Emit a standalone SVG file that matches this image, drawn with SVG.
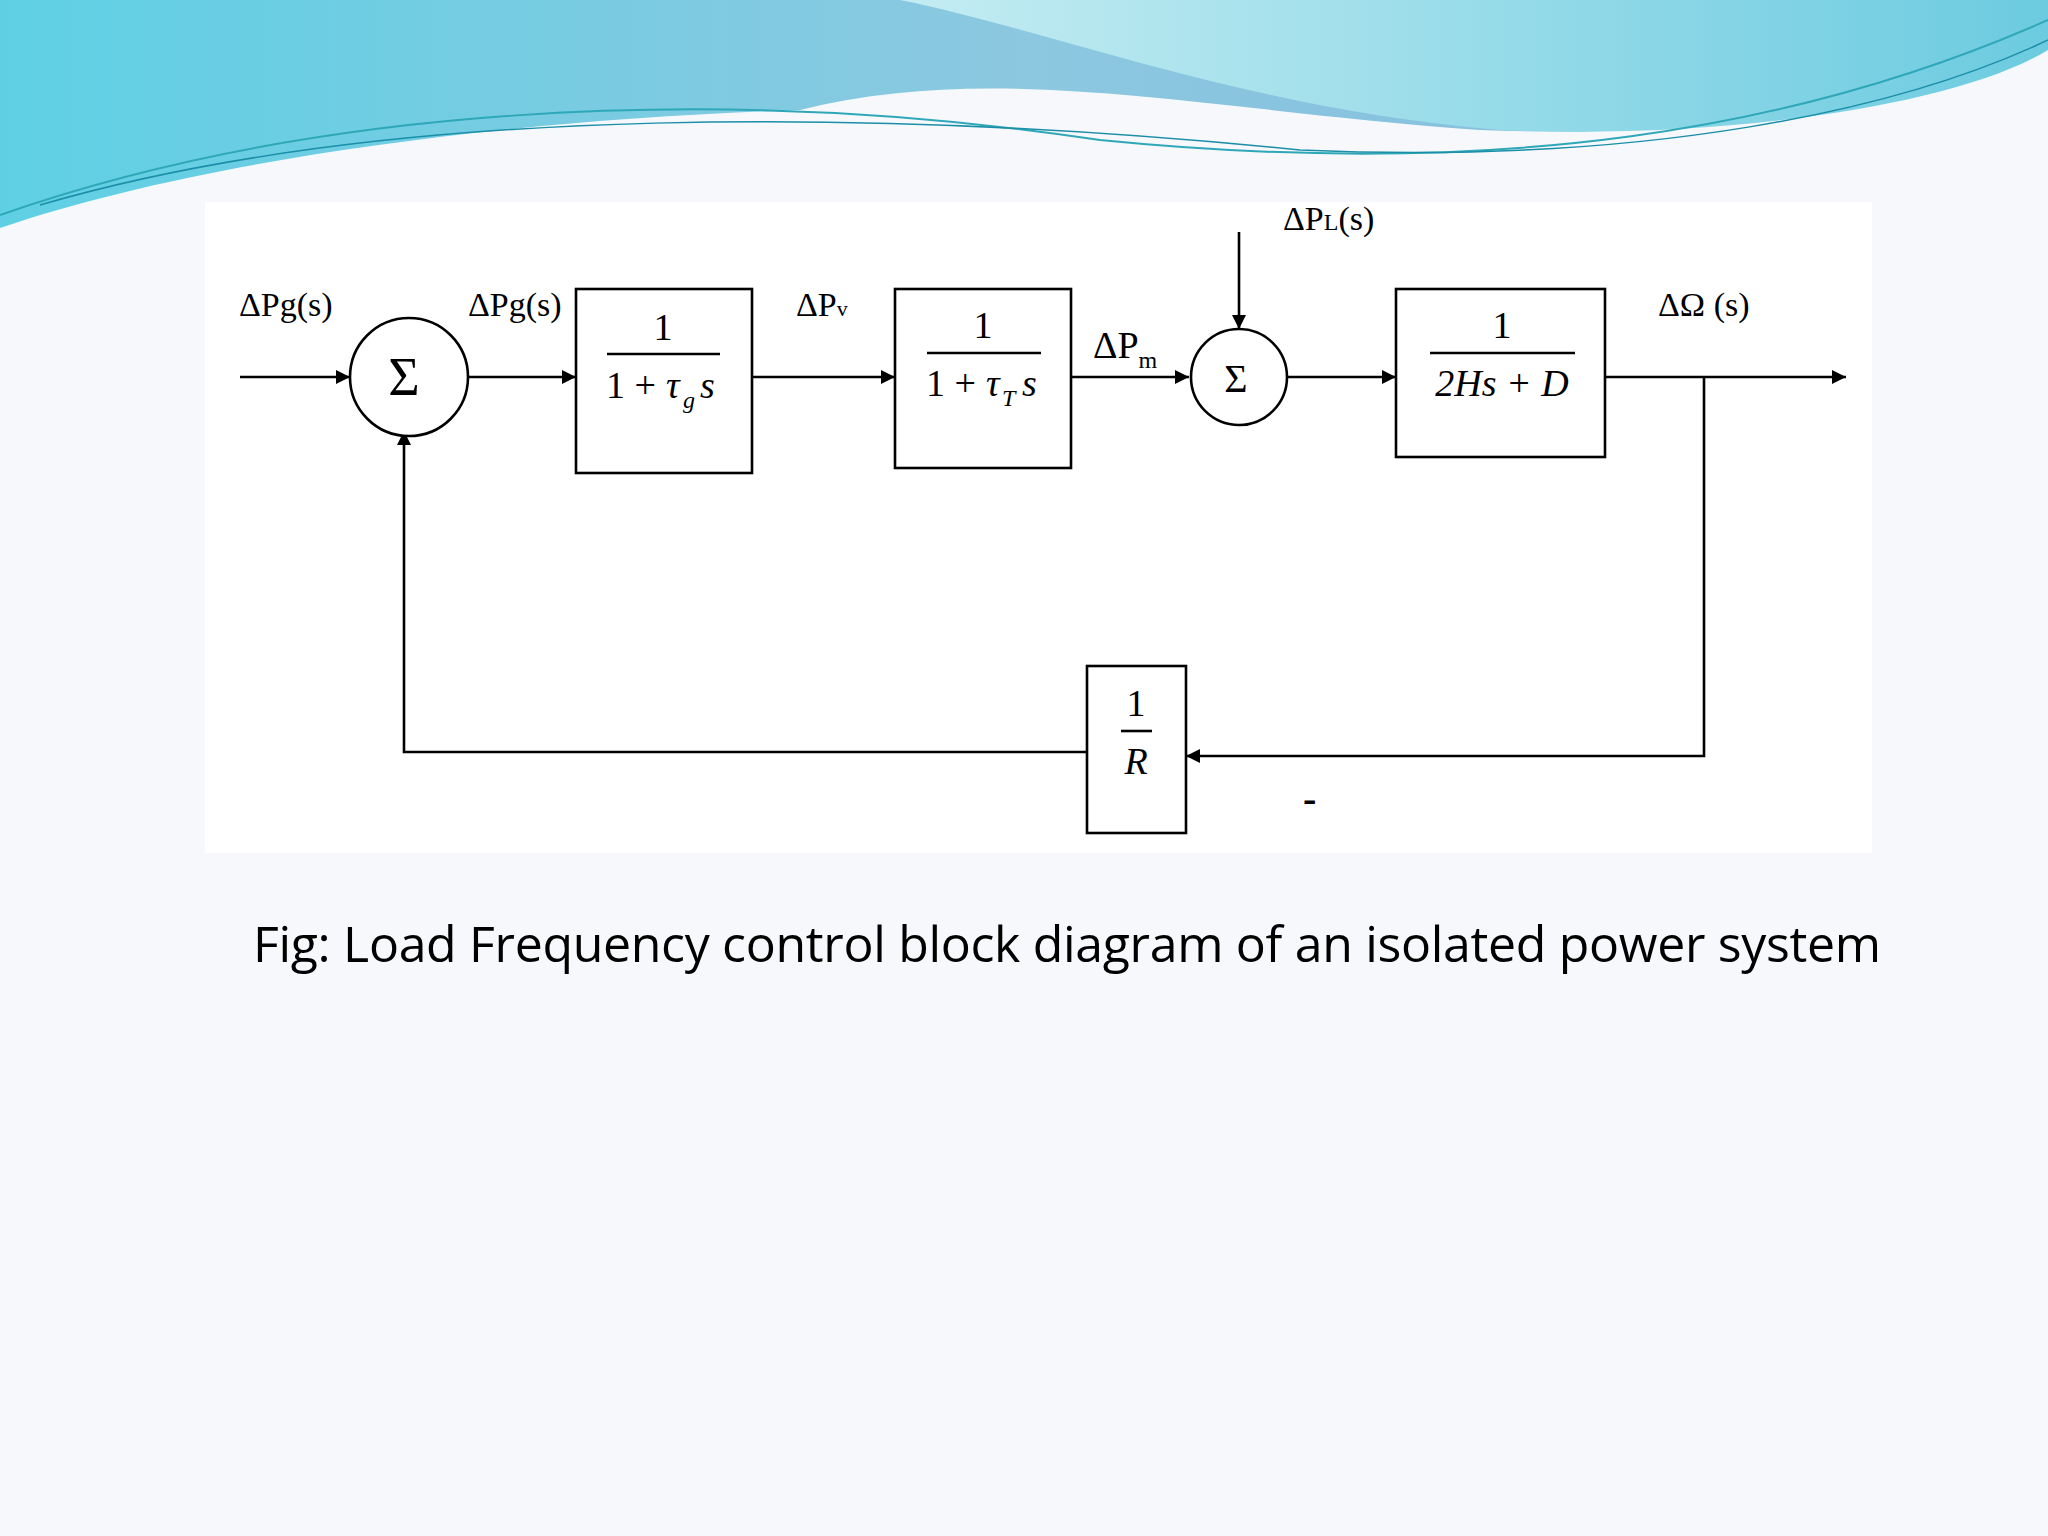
<svg xmlns="http://www.w3.org/2000/svg" width="2048" height="1536" viewBox="0 0 2048 1536">
<defs>
<linearGradient id="g1" x1="0" y1="0" x2="1" y2="0"><stop offset="0" stop-color="#5fd0e4"/><stop offset="0.5" stop-color="#8cc8e0"/><stop offset="1" stop-color="#7fb8dc"/></linearGradient>
<linearGradient id="g2" x1="0" y1="0" x2="1" y2="0"><stop offset="0" stop-color="#c4ecf2"/><stop offset="1" stop-color="#6ccbe0"/></linearGradient>
<marker id="ab" viewBox="0 0 10 10" refX="10" refY="5" markerWidth="18" markerHeight="14" markerUnits="userSpaceOnUse" orient="auto"><path d="M0,0 L10,5 L0,10 z" fill="#000"/></marker>
</defs>
<style>
.ln{stroke:#000;stroke-width:2.6;fill:none}
.bx{stroke:#000;stroke-width:2.6;fill:#fff}
.t{font-family:"Liberation Serif",serif;font-size:34px;fill:#000}
.m{font-family:"Liberation Serif",serif;font-size:38px;font-style:italic;fill:#000}
.n{font-family:"Liberation Serif",serif;font-size:38px;fill:#000}
.sub{font-family:"Liberation Serif",serif;font-size:24px;font-style:italic;fill:#000}
</style>
<rect width="2048" height="1536" fill="#f7f8fb"/>
<path d="M0,0 H2048 V40 C1900,90 1700,140 1480,130 C1200,110 1000,60 800,110 C500,120 200,160 0,228 Z" fill="url(#g1)"/>
<path d="M900,0 H2048 V50 C1950,110 1700,140 1500,130 C1250,110 1050,30 900,0 Z" fill="url(#g2)"/>
<path d="M0,215 C300,110 700,80 1100,140 C1500,180 1800,130 2048,20" fill="none" stroke="#2ea8b8" stroke-width="2"/>
<path d="M40,205 C400,100 900,110 1300,150 C1650,165 1900,110 2048,40" fill="none" stroke="#1b8fa8" stroke-width="1.5"/>
<rect x="205" y="202" width="1667" height="651" fill="#fff"/>

<g id="connectors">
<line class="ln" x1="240" y1="377" x2="350" y2="377" marker-end="url(#ab)"/>
<line class="ln" x1="468" y1="377" x2="576" y2="377" marker-end="url(#ab)"/>
<line class="ln" x1="752" y1="377" x2="895" y2="377" marker-end="url(#ab)"/>
<line class="ln" x1="1071" y1="377" x2="1189" y2="377" marker-end="url(#ab)"/>
<line class="ln" x1="1239" y1="232" x2="1239" y2="329" marker-end="url(#ab)"/>
<line class="ln" x1="1288" y1="377" x2="1396" y2="377" marker-end="url(#ab)"/>
<line class="ln" x1="1605" y1="377" x2="1846" y2="377" marker-end="url(#ab)"/>
<polyline class="ln" points="1704,377 1704,756 1186,756" marker-end="url(#ab)"/>
<polyline class="ln" points="1087,752 404,752 404,431" marker-end="url(#ab)"/>
</g>

<g id="sum1"><circle class="bx" cx="409" cy="377" r="59"/><text class="n" x="404" y="395" text-anchor="middle" style="font-size:54px">Σ</text></g>
<g id="sum2"><circle class="bx" cx="1239" cy="377" r="48"/><text class="n" x="1236" y="392" text-anchor="middle" style="font-size:40px">Σ</text></g>

<g id="gov"><rect class="bx" x="576" y="289" width="176" height="184"/>
<text class="n" x="663" y="340" text-anchor="middle">1</text>
<line class="ln" x1="607" y1="354" x2="720" y2="354"/>
<text class="n" x="606" y="398">1 +</text><text class="m" x="666" y="398">τ</text><text class="sub" x="683" y="408">g</text><text class="m" x="700" y="398">s</text></g>

<g id="turb"><rect class="bx" x="895" y="289" width="176" height="179"/>
<text class="n" x="926" y="396" >1 +</text><text class="m" x="986" y="396">τ</text><text class="sub" x="1002" y="406">T</text><text class="m" x="1022" y="396">s</text>
<text class="n" x="983" y="338" text-anchor="middle">1</text>
<line class="ln" x1="927" y1="353" x2="1041" y2="353"/></g>

<g id="gen"><rect class="bx" x="1396" y="289" width="209" height="168"/>
<text class="n" x="1502" y="338" text-anchor="middle">1</text>
<line class="ln" x1="1430" y1="353" x2="1575" y2="353"/>
<text class="m" x="1502" y="396" text-anchor="middle">2Hs + D</text></g>

<g id="droop"><rect class="bx" x="1087" y="666" width="99" height="167"/>
<text class="n" x="1136" y="716" text-anchor="middle">1</text>
<line class="ln" x1="1121" y1="731" x2="1152" y2="731"/>
<text class="m" x="1136" y="774" text-anchor="middle">R</text></g>

<g id="labels">
<text class="t" x="239" y="316">ΔPg(s)</text>
<text class="t" x="468" y="316">ΔPg(s)</text>
<text class="t" x="796" y="316">ΔP<tspan font-size="22">v</tspan></text>
<text class="n" x="1093" y="358">ΔP<tspan font-size="24" dy="10">m</tspan></text>
<text class="t" x="1283" y="230">ΔP<tspan font-size="24">L</tspan>(s)</text>
<text class="t" x="1658" y="316">ΔΩ (s)</text>
<text class="t" x="1303" y="812" style="font-weight:bold;font-size:40px">-</text>
</g>
<text x="1067" y="962" text-anchor="middle" font-family="'Open Sans',sans-serif" font-size="50" fill="#000" textLength="1628">Fig: Load Frequency control block diagram of an isolated power system</text>
</svg>
